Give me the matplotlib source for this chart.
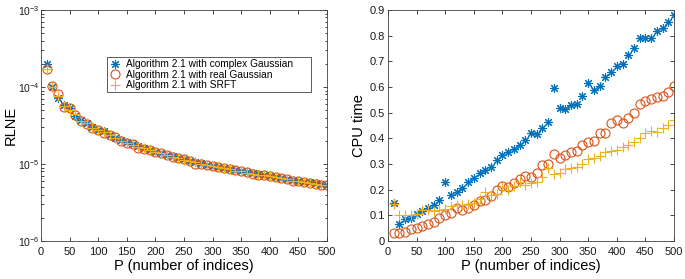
import matplotlib
matplotlib.use("Agg")
import matplotlib.pyplot as plt
from matplotlib.patches import Rectangle
import numpy as np

P = list(range(10, 501, 10))

rlne_complex = [2.0e-4, 1.0e-4, 7.2e-5, 5.9e-5, 5.4e-5, 4.2e-5, 3.7e-5, 3.4e-5, 3.0e-5, 2.8e-5,
                2.65e-5, 2.4e-5, 2.2e-5, 2.05e-5, 1.92e-5, 1.82e-5, 1.72e-5, 1.62e-5, 1.53e-5, 1.45e-5,
                1.4e-5, 1.32e-5, 1.26e-5, 1.2e-5, 1.16e-5, 1.11e-5, 1.06e-5, 1.02e-5, 9.8e-6, 9.5e-6,
                9.2e-6, 8.9e-6, 8.6e-6, 8.3e-6, 8.1e-6, 7.8e-6, 7.6e-6, 7.4e-6, 7.2e-6, 7.0e-6,
                6.8e-6, 6.6e-6, 6.4e-6, 6.2e-6, 6.1e-6, 5.9e-6, 5.8e-6, 5.6e-6, 5.5e-6, 5.4e-6]
rlne_real = [1.7e-4, 1.02e-4, 8.2e-5, 5.5e-5, 5.4e-5, 4.3e-5, 3.6e-5, 3.3e-5, 2.9e-5, 2.8e-5,
             2.5e-5, 2.35e-5, 2.25e-5, 2.0e-5, 1.88e-5, 1.8e-5, 1.62e-5, 1.58e-5, 1.5e-5, 1.43e-5,
             1.38e-5, 1.3e-5, 1.23e-5, 1.2e-5, 1.15e-5, 1.1e-5, 1.0e-5, 1.0e-5, 9.7e-6, 9.4e-6,
             9.1e-6, 8.8e-6, 8.5e-6, 8.3e-6, 8.0e-6, 7.8e-6, 7.5e-6, 7.3e-6, 7.2e-6, 6.9e-6,
             6.7e-6, 6.5e-6, 6.3e-6, 6.0e-6, 6.1e-6, 5.9e-6, 5.7e-6, 5.5e-6, 5.4e-6, 5.4e-6]
rlne_srft = [1.7e-4, 1.0e-4, 7.6e-5, 5.7e-5, 5.1e-5, 4.5e-5, 3.6e-5, 3.4e-5, 2.9e-5, 2.75e-5,
             2.6e-5, 2.35e-5, 2.15e-5, 2.0e-5, 1.9e-5, 1.78e-5, 1.68e-5, 1.6e-5, 1.5e-5, 1.44e-5,
             1.37e-5, 1.31e-5, 1.25e-5, 1.19e-5, 1.14e-5, 1.1e-5, 1.05e-5, 1.01e-5, 9.7e-6, 9.4e-6,
             9.1e-6, 8.8e-6, 8.5e-6, 8.2e-6, 8.0e-6, 7.7e-6, 7.5e-6, 7.3e-6, 7.1e-6, 6.9e-6,
             6.7e-6, 6.5e-6, 6.3e-6, 6.1e-6, 6.0e-6, 5.8e-6, 5.7e-6, 5.5e-6, 5.4e-6, 5.3e-6]

cpu_complex = [0.15, 0.065, 0.085, 0.09, 0.105, 0.115, 0.13, 0.14, 0.16, 0.23,
               0.18, 0.19, 0.205, 0.23, 0.245, 0.265, 0.275, 0.29, 0.315, 0.335,
               0.345, 0.36, 0.375, 0.395, 0.42, 0.415, 0.44, 0.465, 0.595, 0.52,
               0.515, 0.53, 0.535, 0.565, 0.615, 0.59, 0.605, 0.64, 0.66, 0.68,
               0.69, 0.725, 0.75, 0.79, 0.79, 0.79, 0.82, 0.83, 0.855, 0.88]
cpu_real = [0.03, 0.03, 0.035, 0.045, 0.05, 0.06, 0.065, 0.075, 0.09, 0.1,
            0.11, 0.13, 0.12, 0.13, 0.14, 0.155, 0.16, 0.175, 0.2, 0.215,
            0.21, 0.225, 0.24, 0.255, 0.25, 0.265, 0.295, 0.3, 0.34, 0.325,
            0.335, 0.345, 0.35, 0.375, 0.385, 0.39, 0.42, 0.42, 0.46, 0.47,
            0.46, 0.48, 0.5, 0.535, 0.545, 0.555, 0.56, 0.565, 0.58, 0.605]
cpu_srft = [0.145, 0.1, 0.1, 0.1, 0.105, 0.12, 0.12, 0.115, 0.12, 0.125,
            0.135, 0.14, 0.14, 0.145, 0.15, 0.165, 0.19, 0.18, 0.185, 0.21,
            0.2, 0.215, 0.23, 0.22, 0.225, 0.23, 0.25, 0.285, 0.26, 0.265,
            0.28, 0.285, 0.29, 0.3, 0.32, 0.325, 0.33, 0.345, 0.35, 0.355,
            0.365, 0.375, 0.385, 0.4, 0.42, 0.43, 0.425, 0.44, 0.45, 0.47]

labels = ["Algorithm 2.1 with complex Gaussian",
          "Algorithm 2.1 with real Gaussian",
          "Algorithm 2.1 with SRFT"]
colors = ["#0072BD", "#D95319", "#EDB120"]
ytick_cpu = ['0', '0.1', '0.2', '0.3', '0.4', '0.5', '0.6', '0.7', '0.8', '0.9']

plt.rcParams['font.family'] = ['Liberation Sans', 'DejaVu Sans']

fig = plt.figure(figsize=(6.85, 2.79), dpi=100)
W, H = 685, 279
ax1 = fig.add_axes([41 / W, (H - 241) / H, 286 / W, 231 / H])
ax2 = fig.add_axes([388 / W, (H - 241) / H, 286 / W, 231 / H])

def style(ax):
    ax.tick_params(direction='in', which='both', top=True, right=True, labelsize=8,
                   length=3, width=0.6, pad=2, colors='#262626', labelcolor='#1a1a1a')
    ax.tick_params(which='minor', length=1.8)
    ax.tick_params(axis='x', pad=4)
    for s in ax.spines.values():
        s.set_linewidth(0.6)
        s.set_color('#404040')

ast = (8, 2, 0)
ms = 6.5
kw = dict(linestyle='none', ms=ms, mew=0.8)
ax1.plot(P, rlne_complex, marker=ast, color=colors[0], label=labels[0], **kw)
ax1.plot(P, rlne_real, marker='o', mfc='none', color=colors[1], label=labels[1], **kw)
ax1.plot(P, rlne_srft, marker='+', color=colors[2], label=labels[2], **kw)
ax1.set_yscale('log')
ax1.set_ylim(1e-6, 1e-3)
ax1.set_xlim(0, 500)
ax1.set_xticks(range(0, 501, 50))
style(ax1)
ax1.tick_params(axis='y', labelsize=7.5, pad=1)
ax1.set_xlabel('P (number of indices)', fontsize=10.5, labelpad=2)
ax1.set_ylabel('RLNE', fontsize=10.5, labelpad=0)
leg = ax1.legend(loc='upper left', bbox_to_anchor=(0.23, 0.795), fontsize=7.3,
                 frameon=False, borderpad=0.2,
                 handlelength=1.3, handletextpad=0.4, labelspacing=0.05, borderaxespad=0)
leg.set_zorder(6)

ax2.plot(P, cpu_complex, marker=ast, color=colors[0], **kw)
ax2.plot(P, cpu_real, marker='o', mfc='none', color=colors[1], **kw)
ax2.plot(P, cpu_srft, marker='+', color=colors[2], **kw)
ax2.set_xlim(0, 500)
ax2.set_ylim(0, 0.9)
ax2.set_xticks(range(0, 501, 50))
ax2.set_yticks(np.arange(0, 0.91, 0.1))
ax2.set_yticklabels(ytick_cpu)
style(ax2)
ax2.set_xlabel('P (number of indices)', fontsize=10.5, labelpad=2)
ax2.set_ylabel('CPU time', fontsize=10.5, labelpad=3)

# legend frame, MATLAB-like with extra right padding
fig.canvas.draw()
bb = leg.get_window_extent()
frame = Rectangle((bb.x0, bb.y0), bb.width + 16, bb.height, transform=None,
                  facecolor='white', edgecolor='#404040', lw=0.6, zorder=5.5, clip_on=False)
ax1.add_artist(frame)

fig.savefig('out.png', dpi=100)
